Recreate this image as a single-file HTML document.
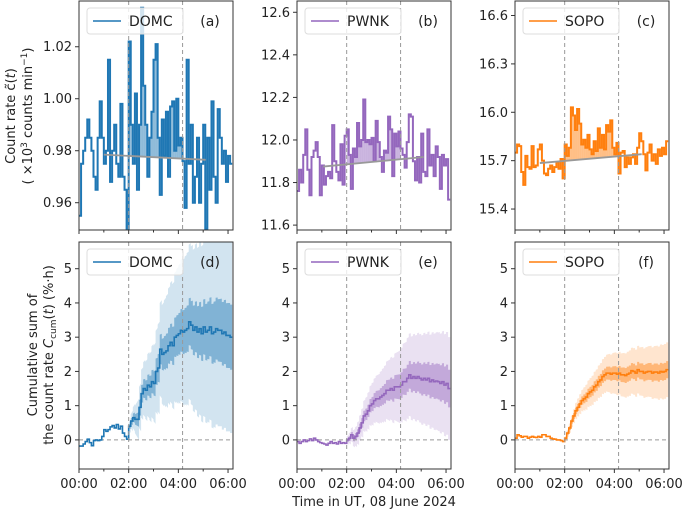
<!DOCTYPE html>
<html><head><meta charset="utf-8">
<style>
html,body{margin:0;padding:0;background:#fff;}
svg text{font-family:"DejaVu Sans","Liberation Sans",sans-serif;fill:#222;}
</style></head>
<body>
<svg id="fig" width="685" height="512" viewBox="0 0 685 512" xmlns="http://www.w3.org/2000/svg"></svg>
<script>
// ---- data ----
const binMinutes = 5;
const stations = ["DOMC","PWNK","SOPO"];
const colors = ["#1f77b4","#9467bd","#ff7f0e"];
const xTickLabels = ["00:00","02:00","04:00","06:00"];
const xTickHours = [0,2,4,6];
const eventStartH = 2.0;
const eventEndH = 4.17;

const rateDOMC = [0.955,0.975,0.98,0.985,0.992,0.985,0.98,0.97,0.965,0.985,0.999,0.985,
 0.975,0.98,1.015,0.968,0.98,0.99,0.975,0.97,0.998,0.97,0.965,0.948,
 1.022,0.99,0.975,1.002,0.965,0.99,1.035,1.005,0.99,0.97,0.985,0.995,
 1.015,1.021,0.985,0.963,0.992,0.978,0.995,0.97,0.997,0.999,0.98,1.0,
 0.982,0.985,0.976,0.958,1.015,0.975,0.99,0.96,0.97,0.985,0.96,0.975,
 0.99,0.95,0.985,0.965,0.999,0.97,0.96,0.996,0.985,0.975,0.98,0.968,0.978,0.975];
const ratePWNK = [11.76,11.86,11.80,11.93,12.05,11.86,11.74,11.92,11.95,11.99,11.92,11.74,
 11.88,11.79,11.83,11.85,11.82,12.07,11.90,11.85,11.81,11.98,11.79,12.02,
 12.05,11.93,11.77,11.96,11.92,12.08,11.97,12.00,12.19,11.99,12.00,11.98,
 12.01,11.90,12.09,11.99,11.92,11.85,11.95,11.94,12.11,12.05,11.83,12.03,
 11.97,12.04,11.96,11.93,11.87,11.99,12.12,12.11,11.90,11.81,11.92,11.80,
 12.03,11.85,11.83,12.05,11.88,11.93,11.83,11.97,11.92,11.77,11.93,11.88,11.91,11.72];
const rateSOPO = [15.75,15.80,15.79,15.63,15.55,15.73,15.66,15.65,15.79,15.66,15.67,15.77,
 15.80,15.70,15.62,15.61,15.65,15.67,15.63,15.66,15.69,15.65,15.71,15.59,
 15.80,15.73,15.78,16.03,15.98,15.89,16.02,15.93,15.80,15.83,15.78,15.86,
 15.77,15.74,15.82,15.76,15.90,15.78,15.86,15.77,15.92,15.88,15.95,15.78,
 15.74,15.81,15.62,15.75,15.76,15.66,15.72,15.68,15.72,15.74,15.68,15.78,
 15.87,15.82,15.74,15.64,15.75,15.80,15.70,15.74,15.68,15.77,15.73,15.78,15.74,15.82];
const trendStartH = [1.0,1.05,1.0];
const trendEndH = [5.1,5.1,5.1];
const trendStartV = [0.9785,11.875,15.685];
const trendEndV = [0.9765,11.92,15.74];

const cumDOMC = [-0.18,-0.18,-0.12,-0.05,0.02,-0.08,-0.17,-0.02,0.0,-0.02,0.0,0.1,
 0.3,0.25,0.3,0.38,0.42,0.35,0.45,0.32,0.4,0.2,0.1,0.02,
 0.4,0.55,0.65,0.6,0.6,0.95,1.35,1.5,1.45,1.6,1.55,1.7,
 1.65,2.0,2.1,2.65,2.5,2.55,2.6,2.75,2.85,2.75,3.0,3.05,
 3.1,3.2,3.15,3.2,3.25,3.45,3.35,3.2,3.3,3.15,3.25,3.1,
 3.3,3.15,3.2,3.3,3.1,3.15,3.25,3.2,3.2,3.1,3.15,3.05,3.05,3.0];
const cumPWNK = [-0.05,-0.1,-0.05,0.0,-0.05,-0.02,0.03,-0.02,0.05,0.0,-0.05,-0.08,
 -0.1,-0.12,-0.15,-0.1,-0.05,-0.1,-0.08,-0.12,-0.05,-0.1,-0.08,-0.1,
 0.0,0.05,0.15,0.05,0.1,0.2,0.35,0.5,0.7,0.75,0.85,1.0,
 1.05,1.15,1.2,1.2,1.25,1.3,1.35,1.45,1.45,1.5,1.45,1.55,
 1.55,1.55,1.6,1.7,1.7,1.8,1.9,1.8,1.85,1.8,1.85,1.8,
 1.75,1.8,1.75,1.8,1.7,1.75,1.7,1.72,1.7,1.65,1.7,1.6,1.65,1.5];
const cumSOPO = [0.05,0.15,0.12,0.08,0.1,0.1,0.05,0.08,0.1,0.08,0.07,0.1,
 0.08,0.15,0.15,0.1,0.1,0.05,0.03,0.02,0.0,0.0,-0.02,-0.05,
 0.05,0.2,0.35,0.55,0.7,0.85,0.95,1.05,1.15,1.2,1.25,1.35,
 1.4,1.45,1.55,1.6,1.7,1.75,1.85,1.9,1.95,1.95,1.92,1.95,
 1.95,1.92,1.95,1.9,1.9,1.88,1.92,1.95,2.02,2.0,1.95,2.05,
 2.0,2.0,1.95,1.98,2.0,2.0,1.95,1.98,1.98,1.95,2.0,1.98,2.0,2.05];
const bandHours = [2,2.5,3,3.5,4,4.5,5,5.5,6,6.2];
const innerDOMC = [0.05,0.25,0.35,0.5,0.6,0.7,0.8,0.9,0.95,0.95];
const outerDOMC = [0.1,0.7,1.1,1.6,2.0,2.3,2.6,2.8,2.8,2.8];
const innerPWNK = [0.05,0.12,0.2,0.28,0.35,0.4,0.45,0.5,0.55,0.55];
const outerPWNK = [0.1,0.35,0.6,0.8,1.0,1.2,1.3,1.4,1.5,1.5];
const innerSOPO = [0.03,0.1,0.15,0.18,0.2,0.22,0.23,0.25,0.25,0.25];
const outerSOPO = [0.05,0.25,0.4,0.5,0.6,0.65,0.7,0.75,0.8,0.8];

const topTicks = [[0.96,0.98,1.00,1.02],[11.6,11.8,12.0,12.2,12.4,12.6],[15.4,15.7,16.0,16.3,16.6]];
const topTickLabels = [["0.96","0.98","1.00","1.02"],["11.6","11.8","12.0","12.2","12.4","12.6"],["15.4","15.7","16.0","16.3","16.6"]];
const botTicks = [0,1,2,3,4,5];
const panelLetters = [["(a)","(b)","(c)"],["(d)","(e)","(f)"]];

// ---- layout ----
const NS="http://www.w3.org/2000/svg";
const svg=document.getElementById('fig');
const colX=[[79,233],[297,451],[515,669]];
const topY=[1,230], botY=[242,469];
const xMax=6.2;
const topDom=[[0.9495,1.0376],[11.577,12.653],[15.27,16.69]];
const botDom=[-0.85,5.78];
const rates=[rateDOMC,ratePWNK,rateSOPO];
const cums=[cumDOMC,cumPWNK,cumSOPO];
const inners=[innerDOMC,innerPWNK,innerSOPO];
const outers=[outerDOMC,outerPWNK,outerSOPO];

function mk(tag,attrs,parent){const e=document.createElementNS(NS,tag);for(const k in attrs)e.setAttribute(k,attrs[k]);(parent||svg).appendChild(e);return e;}
function xs(c){return h=>colX[c][0]+h/xMax*(colX[c][1]-colX[c][0]);}
function ysc(dom,rng){return v=>rng[1]-(v-dom[0])/(dom[1]-dom[0])*(rng[1]-rng[0]);}
function interp(xa,ya,x){if(x<=xa[0])return ya[0];for(let i=1;i<xa.length;i++){if(x<=xa[i]){const f=(x-xa[i-1])/(xa[i]-xa[i-1]);return ya[i-1]+f*(ya[i]-ya[i-1]);}}return ya[ya.length-1];}
function rgba(hex,a){const n=parseInt(hex.slice(1),16);return `rgba(${n>>16},${(n>>8)&255},${n&255},${a})`;}

function axesFrame(c,yr,id,yt,ytl,ysf,showXLabels,letter){
  const X=xs(c);const g=mk('g',{});
  
  
  const cp=mk('clipPath',{id:'clip'+id},g);
  mk('rect',{x:colX[c][0],y:yr[0],width:colX[c][1]-colX[c][0],height:yr[1]-yr[0]},cp);
  const plot=mk('g',{'clip-path':`url(#clip${id})`},g);
  return {g,plot,X};
}
function finishAxes(o,c,yr,id,yt,ytl,ysf,showXLabels,letter,stn){
  const {g,X}=o;
  // dashed event lines
  [eventStartH,eventEndH].forEach((h,k)=>{const l=mk('line',{x1:X(h),x2:X(h),y1:yr[0],y2:yr[1],stroke:'#999','stroke-width':1,'stroke-dasharray':'4,3'},g);
    });
  mk('rect',{x:colX[c][0],y:yr[0],width:colX[c][1]-colX[c][0],height:yr[1]-yr[0],fill:'none',stroke:'#333','stroke-width':1},g);
  // y ticks
  yt.forEach((v,i)=>{const y=ysf(v);if(y<yr[0]-0.5||y>yr[1]+0.5)return;
    mk('line',{x1:colX[c][0]-4,x2:colX[c][0],y1:y,y2:y,stroke:'#333'},g);
    const t=mk('text',{x:colX[c][0]-7,y:y+4.5,'text-anchor':'end','font-size':13},g);t.textContent=ytl[i];
    });
  // x ticks
  for(let h=0;h<=6;h++){const x=X(h);mk('line',{x1:x,x2:x,y1:yr[1],y2:yr[1]+(h%2?2.5:4),stroke:'#333'},g);}
  if(showXLabels){xTickHours.forEach((h,i)=>{const t=mk('text',{x:X(h),y:yr[1]+19,'text-anchor':'middle','font-size':13},g);t.textContent=xTickLabels[i];
    });}
  // legend
  const lg=mk('g',{},g);
  
  
  const lx=colX[c][0]+8,ly=yr[0]+7;
  mk('rect',{x:lx,y:ly,width:96,height:26,rx:3,fill:'rgba(255,255,255,0.8)',stroke:'#ddd'},lg);
  mk('line',{x1:lx+6,x2:lx+34,y1:ly+13,y2:ly+13,stroke:colors[c],'stroke-width':1.5},lg);
  const lt=mk('text',{x:lx+42,y:ly+18,'font-size':14},lg);lt.textContent=stn;
  const pl=mk('text',{x:colX[c][0]+131,y:ly+18,'text-anchor':'middle','font-size':14},g);pl.textContent=letter;
  
}

for(let c=0;c<3;c++){
  // ---------- top rate panel ----------
  const Y=ysc(topDom[c],topY);
  const o=axesFrame(c,topY,'top'+c);
  const X=o.X;const r=rates[c];const dt=binMinutes/60;
  const tr=h=>trendStartV[c]+(h-trendStartH[c])/(trendEndH[c]-trendStartH[c])*(trendEndV[c]-trendStartV[c]);
  // fill above trend during event
  for(let i=0;i<r.length;i++){const h0=i*dt,h1=(i+1)*dt;
    if(h0<eventStartH-1e-6||h1>eventEndH+dt/2)continue;
    if(r[i]<=tr(h0))continue;
    const p=mk('polygon',{points:`${X(h0)},${Y(r[i])} ${X(h1)},${Y(r[i])} ${X(h1)},${Y(tr(h1))} ${X(h0)},${Y(tr(h0))}`,fill:rgba(colors[c],0.5)},o.plot);
    }
  let d='';
  for(let i=0;i<r.length;i++){const h0=i*dt,h1=(i+1)*dt;d+=(i?'L':'M')+X(h0)+','+Y(r[i])+'L'+X(h1)+','+Y(r[i]);}
  const path=mk('path',{d,fill:'none',stroke:colors[c],'stroke-width':2},o.plot);
  
  
  const tl=mk('line',{x1:X(trendStartH[c]),y1:Y(trendStartV[c]),x2:X(trendEndH[c]),y2:Y(trendEndV[c]),stroke:'#999','stroke-width':1.8},o.plot);
  
  finishAxes(o,c,topY,'top'+c,topTicks[c],topTickLabels[c],Y,false,panelLetters[0][c],stations[c]);

  // ---------- bottom cumulative panel ----------
  const Yb=ysc(botDom,botY);
  const ob=axesFrame(c,botY,'bot'+c);
  const cm=cums[c];
  const iStart=Math.round(eventStartH/dt);
  const mkBand=(arr,alpha,name)=>{let up=[],lo=[];
    for(let i=iStart;i<cm.length;i++){for(const h of [i*dt,(i+1)*dt]){const s=interp(bandHours,arr,h);up.push(X(h)+','+Yb(cm[i]+s));lo.push(X(h)+','+Yb(cm[i]-s));}}
    const p=mk('polygon',{points:up.concat(lo.reverse()).join(' '),fill:rgba(colors[c],alpha)},ob.plot);
    };
  mkBand(outers[c],0.2,'outer-uncertainty-band');
  mkBand(inners[c],0.45,'inner-uncertainty-band');
  const zl=mk('line',{x1:colX[c][0],x2:colX[c][1],y1:Yb(0),y2:Yb(0),stroke:'#999','stroke-dasharray':'4,3'},ob.plot);
  
  let db='';
  for(let i=0;i<cm.length;i++){const h0=i*dt,h1=(i+1)*dt;db+=(i?'L':'M')+X(h0)+','+Yb(cm[i])+'L'+X(h1)+','+Yb(cm[i]);}
  const pb=mk('path',{d:db,fill:'none',stroke:colors[c],'stroke-width':1.6},ob.plot);
  
  
  finishAxes(ob,c,botY,'bot'+c,botTicks,botTicks.map(String),Yb,true,panelLetters[1][c],stations[c]);
}

// axis titles
function rotText(x,y,html,name){const t=mk('text',{x:0,y:0,'text-anchor':'middle','font-size':13,transform:`translate(${x},${y}) rotate(-90)`});t.innerHTML=html;
  }
rotText(15,116,'Count rate c\u0303(<tspan font-style="italic">t</tspan>)','y-axis-title-top-line1');
rotText(32,116,'( \u00d710<tspan dy="-5" font-size="9">3</tspan><tspan dy="5"> counts min</tspan><tspan dy="-5" font-size="9">\u22121</tspan><tspan dy="5">)</tspan>','y-axis-title-top-line2');
rotText(37,355,'Cumulative sum of','y-axis-title-bottom-line1');
rotText(53,355,'the count rate <tspan font-style="italic">C</tspan><tspan dy="3" font-size="9">cum</tspan><tspan dy="-3">(</tspan><tspan font-style="italic">t</tspan>) (%\u00b7h)','y-axis-title-bottom-line2');
const xl=mk('text',{x:374,y:506,'text-anchor':'middle','font-size':13});xl.textContent='Time in UT, 08 June 2024';

</script>
</body></html>
